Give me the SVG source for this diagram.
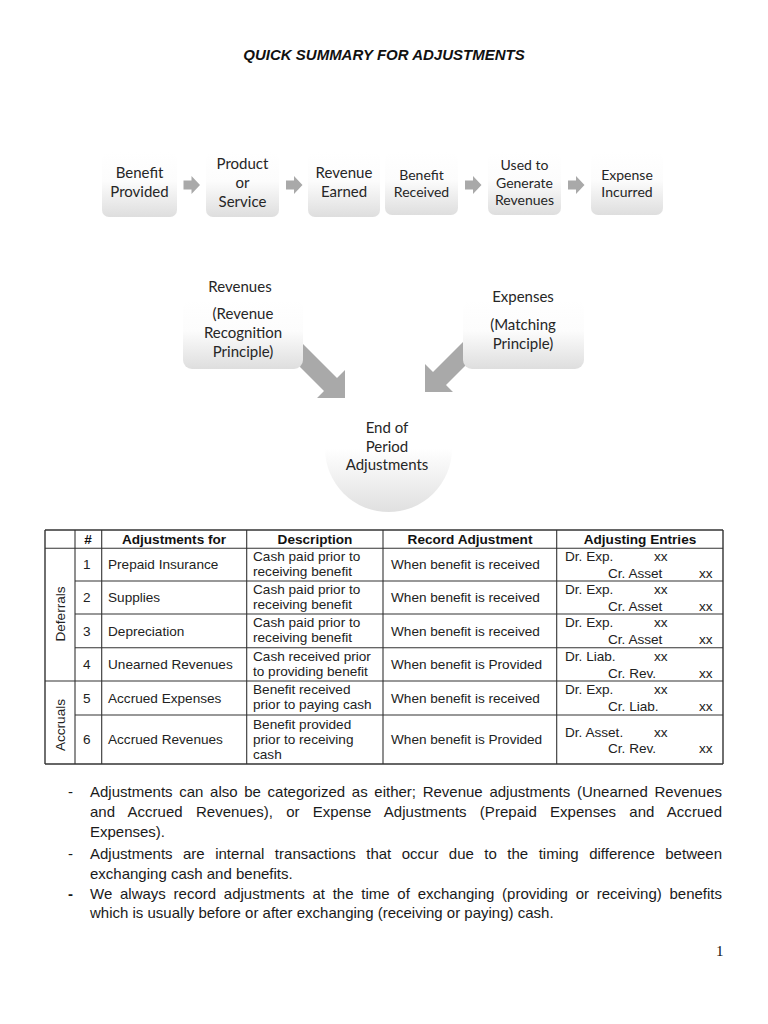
<svg xmlns="http://www.w3.org/2000/svg" width="768" height="1024" viewBox="0 0 768 1024">
<defs>
<linearGradient id="boxg" x1="0" y1="0" x2="0" y2="1">
<stop offset="0" stop-color="#ffffff"/>
<stop offset="0.45" stop-color="#fcfcfc"/>
<stop offset="1" stop-color="#dedede"/>
</linearGradient>
<linearGradient id="circg" x1="0" y1="0" x2="0" y2="1">
<stop offset="0" stop-color="#ffffff"/>
<stop offset="0.5" stop-color="#ffffff"/>
<stop offset="1" stop-color="#e0e0e0"/>
</linearGradient>
</defs>
<style>
.bg{fill:#ffffff}
.box{fill:url(#boxg)}
.sa{font-family:Lato,"Open Sans",sans-serif;fill:#262626;text-anchor:middle}
.f15{font-size:15px}
.f14{font-size:14px}
.arr{fill:#a9a9a9}
.tl{stroke:#333333;stroke-width:1.1;fill:none}
.tb{stroke:#333333;stroke-width:1.4;fill:none}
.tt{font-family:"Liberation Sans",Arial,sans-serif;font-size:13.6px;fill:#222}
.th{font-family:"Liberation Sans",Arial,sans-serif;font-size:13.6px;font-weight:bold;fill:#111;text-anchor:middle}
.mid{text-anchor:middle}
.bt{font-family:"Liberation Sans",Arial,sans-serif;font-size:15px;fill:#1a1a1a}
</style>
<rect class="bg" x="0" y="0" width="768" height="1024"/>

<text id="title" x="384" y="60" text-anchor="middle" font-family="Liberation Sans, Arial, sans-serif" font-size="15" font-weight="bold" font-style="italic" fill="#111">QUICK SUMMARY FOR ADJUSTMENTS</text>

<g id="connectors">
<path class="arr" d="M183.5,180.5 h8 v-4.5 l8.5,9 l-8.5,9 v-4.5 h-8 z"/>
<path class="arr" d="M286,180.5 h8 v-4.5 l8.5,9 l-8.5,9 v-4.5 h-8 z"/>
<path class="arr" d="M465,180.5 h8 v-4.5 l8.5,9 l-8.5,9 v-4.5 h-8 z"/>
<path class="arr" d="M568,180.5 h8 v-4.5 l8.5,9 l-8.5,9 v-4.5 h-8 z"/>
<polygon class="arr" points="290,331 337,378 345,370 345,398 317,398 324,391 280,347"/>
<polygon class="arr" points="480,325 433,372 425,364 425,392 453,392 446,385 490,341"/>
</g>

<g id="node-benefit-provided">
<rect class="box" x="102" y="152" width="75" height="65" rx="7"/>
<text class="sa f15" x="139.5" y="178">Benefit</text>
<text class="sa f15" x="139.5" y="197">Provided</text>
</g>
<g id="node-product-service">
<rect class="box" x="206" y="152" width="73" height="65" rx="7"/>
<text class="sa f15" x="242.5" y="169">Product</text>
<text class="sa f15" x="242.5" y="188">or</text>
<text class="sa f15" x="242.5" y="207">Service</text>
</g>
<g id="node-revenue-earned">
<rect class="box" x="308" y="152" width="72" height="65" rx="7"/>
<text class="sa f15" x="344" y="178">Revenue</text>
<text class="sa f15" x="344" y="197">Earned</text>
</g>
<g id="node-benefit-received">
<rect class="box" x="385" y="152" width="73" height="63" rx="7"/>
<text class="sa f14" x="421.5" y="180">Benefit</text>
<text class="sa f14" x="421.5" y="197">Received</text>
</g>
<g id="node-used-to-generate">
<rect class="box" x="488" y="152" width="73" height="63" rx="7"/>
<text class="sa f14" x="524.5" y="170">Used to</text>
<text class="sa f14" x="524.5" y="188">Generate</text>
<text class="sa f14" x="524.5" y="205">Revenues</text>
</g>
<g id="node-expense-incurred">
<rect class="box" x="591" y="152" width="72" height="63" rx="7"/>
<text class="sa f14" x="627" y="180">Expense</text>
<text class="sa f14" x="627" y="197">Incurred</text>
</g>

<g id="node-revenues">
<rect class="box" x="183" y="300" width="120" height="69" rx="9"/>
<text class="sa f15" x="240" y="292">Revenues</text>
<text class="sa f15" x="243" y="319">(Revenue</text>
<text class="sa f15" x="243" y="338">Recognition</text>
<text class="sa f15" x="243" y="357">Principle)</text>
</g>
<g id="node-expenses">
<rect class="box" x="463" y="300" width="121" height="69" rx="9"/>
<text class="sa f15" x="523" y="302">Expenses</text>
<text class="sa f15" x="523" y="330">(Matching</text>
<text class="sa f15" x="523" y="349">Principle)</text>
</g>
<g id="node-end-of-period">
<circle cx="388.5" cy="448.5" r="63.5" fill="url(#circg)"/>
<text class="sa f15" x="387" y="433">End of</text>
<text class="sa f15" x="387" y="452">Period</text>
<text class="sa f15" x="387" y="470">Adjustments</text>
</g>

<g id="table">
<line class="tb" x1="45" y1="530" x2="723" y2="530"/>
<line class="tl" x1="45" y1="548.3" x2="723" y2="548.3"/>
<line class="tl" x1="75" y1="581" x2="723" y2="581"/>
<line class="tl" x1="75" y1="614" x2="723" y2="614"/>
<line class="tl" x1="75" y1="647.7" x2="723" y2="647.7"/>
<line class="tl" x1="45" y1="681" x2="723" y2="681"/>
<line class="tl" x1="75" y1="715" x2="723" y2="715"/>
<line class="tb" x1="45" y1="764" x2="723" y2="764"/>
<line class="tb" x1="45" y1="530" x2="45" y2="764"/>
<line class="tl" x1="75" y1="530" x2="75" y2="764"/>
<line class="tl" x1="101.7" y1="530" x2="101.7" y2="764"/>
<line class="tl" x1="246.7" y1="530" x2="246.7" y2="764"/>
<line class="tl" x1="383" y1="530" x2="383" y2="764"/>
<line class="tl" x1="556.7" y1="530" x2="556.7" y2="764"/>
<line class="tb" x1="723" y1="530" x2="723" y2="764"/>

<text class="th" x="88" y="543.5">#</text>
<text class="th" x="174" y="543.5">Adjustments for</text>
<text class="th" x="315" y="543.5">Description</text>
<text class="th" x="470" y="543.5">Record Adjustment</text>
<text class="th" x="640" y="543.5">Adjusting Entries</text>

<text class="tt mid" transform="translate(65,614) rotate(-90)">Deferrals</text>
<text class="tt mid" transform="translate(65,725) rotate(-90)">Accruals</text>

<text class="tt" x="83" y="569">1</text>
<text class="tt" x="108" y="569">Prepaid Insurance</text>
<text class="tt" x="253" y="561">Cash paid prior to</text>
<text class="tt" x="253" y="576">receiving benefit</text>
<text class="tt" x="391" y="569">When benefit is received</text>
<text class="tt" x="565" y="560.5">Dr. Exp.</text>
<text class="tt" x="654" y="560.5">xx</text>
<text class="tt" x="608" y="578">Cr. Asset</text>
<text class="tt" x="699" y="578">xx</text>

<text class="tt" x="83" y="602">2</text>
<text class="tt" x="108" y="602">Supplies</text>
<text class="tt" x="253" y="594">Cash paid prior to</text>
<text class="tt" x="253" y="609">receiving benefit</text>
<text class="tt" x="391" y="602">When benefit is received</text>
<text class="tt" x="565" y="593.5">Dr. Exp.</text>
<text class="tt" x="654" y="593.5">xx</text>
<text class="tt" x="608" y="611">Cr. Asset</text>
<text class="tt" x="699" y="611">xx</text>

<text class="tt" x="83" y="636">3</text>
<text class="tt" x="108" y="636">Depreciation</text>
<text class="tt" x="253" y="627">Cash paid prior to</text>
<text class="tt" x="253" y="642">receiving benefit</text>
<text class="tt" x="391" y="636">When benefit is received</text>
<text class="tt" x="565" y="627">Dr. Exp.</text>
<text class="tt" x="654" y="627">xx</text>
<text class="tt" x="608" y="644">Cr. Asset</text>
<text class="tt" x="699" y="644">xx</text>

<text class="tt" x="83" y="669">4</text>
<text class="tt" x="108" y="669">Unearned Revenues</text>
<text class="tt" x="253" y="661">Cash received prior</text>
<text class="tt" x="253" y="676">to providing benefit</text>
<text class="tt" x="391" y="669">When benefit is Provided</text>
<text class="tt" x="565" y="660.5">Dr. Liab.</text>
<text class="tt" x="654" y="660.5">xx</text>
<text class="tt" x="608" y="678">Cr. Rev.</text>
<text class="tt" x="699" y="678">xx</text>

<text class="tt" x="83" y="703">5</text>
<text class="tt" x="108" y="703">Accrued Expenses</text>
<text class="tt" x="253" y="694">Benefit received</text>
<text class="tt" x="253" y="709">prior to paying cash</text>
<text class="tt" x="391" y="703">When benefit is received</text>
<text class="tt" x="565" y="694">Dr. Exp.</text>
<text class="tt" x="654" y="694">xx</text>
<text class="tt" x="608" y="711">Cr. Liab.</text>
<text class="tt" x="699" y="711">xx</text>

<text class="tt" x="83" y="744">6</text>
<text class="tt" x="108" y="744">Accrued Revenues</text>
<text class="tt" x="253" y="729">Benefit provided</text>
<text class="tt" x="253" y="744">prior to receiving</text>
<text class="tt" x="253" y="759">cash</text>
<text class="tt" x="391" y="744">When benefit is Provided</text>
<text class="tt" x="565" y="737">Dr. Asset.</text>
<text class="tt" x="654" y="737">xx</text>
<text class="tt" x="608" y="753">Cr. Rev.</text>
<text class="tt" x="699" y="753">xx</text>
</g>

<g id="notes">
<text class="bt" x="68" y="797">-</text>
<text class="bt" x="90" y="797" word-spacing="2.5" textLength="632" lengthAdjust="spacing">Adjustments can also be categorized as either; Revenue adjustments (Unearned Revenues</text>
<text class="bt" x="90" y="817" word-spacing="9" textLength="632" lengthAdjust="spacing">and Accrued Revenues), or Expense Adjustments (Prepaid Expenses and Accrued</text>
<text class="bt" x="90" y="837">Expenses).</text>
<text class="bt" x="68" y="859">-</text>
<text class="bt" x="90" y="859" word-spacing="6.3" textLength="632" lengthAdjust="spacing">Adjustments are internal transactions that occur due to the timing difference between</text>
<text class="bt" x="90" y="879">exchanging cash and benefits.</text>
<text class="bt" x="68" y="899" font-weight="bold">-</text>
<text class="bt" x="90" y="899" word-spacing="3.6" textLength="632" lengthAdjust="spacing">We always record adjustments at the time of exchanging (providing or receiving) benefits</text>
<text class="bt" x="90" y="918">which is usually before or after exchanging (receiving or paying) cash.</text>
</g>

<text id="page-number" x="716" y="956" font-family="Liberation Serif, Times New Roman, serif" font-size="15" fill="#111">1</text>
</svg>
